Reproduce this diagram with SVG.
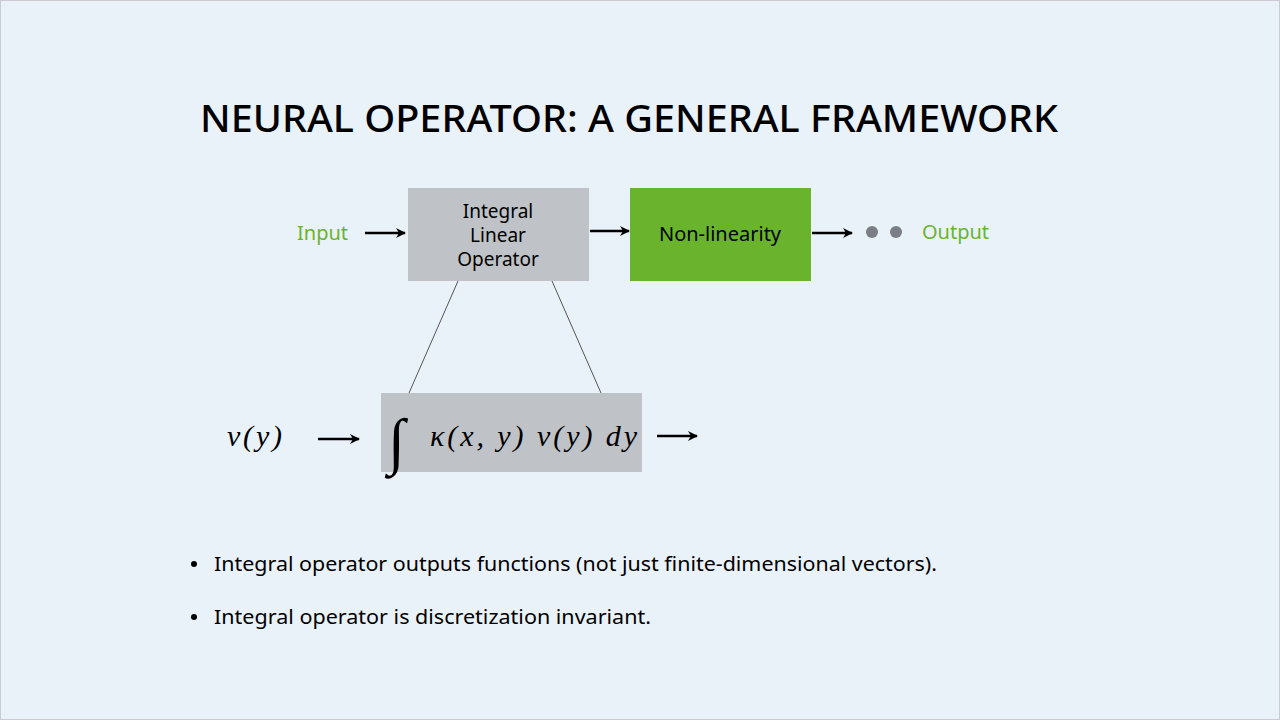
<svg xmlns="http://www.w3.org/2000/svg" width="1280" height="720" viewBox="0 0 1280 720">
<defs><marker id="ah" markerWidth="10" markerHeight="10" refX="9" refY="5" orient="auto" markerUnits="userSpaceOnUse"><path d="M0,0 L10,5 L0,10 L3,5 Z" fill="#000"/></marker></defs>
<style>
.s{font-family:"Noto Sans","DejaVu Sans",sans-serif}
.m{font-family:"Liberation Serif",serif;font-style:italic;font-size:30px}
.a{stroke:#000;stroke-width:2.5;fill:none;marker-end:url(#ah)}
</style>
<rect width="1280" height="720" fill="#eaf2f9"/>
<rect x="0.5" y="0.5" width="1279" height="719" fill="none" stroke="#c8ccd0"/>
<text class="s" x="629" y="132" font-size="38" font-weight="500" text-anchor="middle" textLength="858" lengthAdjust="spacingAndGlyphs">NEURAL OPERATOR: A GENERAL FRAMEWORK</text>
<g id="input"><text class="s" x="297" y="240" font-size="20" fill="#6ab42d">Input</text></g>
<g id="integral"><rect x="408" y="188" width="181" height="93" fill="#bfc3c7"/>
<text class="s" font-size="19" text-anchor="middle"><tspan x="498" y="218">Integral</tspan><tspan x="498" y="242">Linear</tspan><tspan x="498" y="266">Operator</tspan></text></g>
<g id="nonlin"><rect x="630" y="188" width="181" height="93" fill="#6ab42d"/>
<text class="s" x="720" y="241" font-size="20" text-anchor="middle">Non-linearity</text></g>
<g id="dots"><circle cx="872" cy="232" r="6" fill="#7b7f85"/><circle cx="896" cy="232" r="6" fill="#7b7f85"/></g>
<g id="output"><text class="s" x="922" y="239" font-size="20" fill="#6ab42d">Output</text></g>
<g id="formula"><rect x="381" y="393" width="261" height="79" fill="#bfc3c7"/>
<text x="388" y="462" font-family="Liberation Serif,serif" font-size="62">∫</text>
<text class="m" x="430" y="446" textLength="207" lengthAdjust="spacing">κ(x, y) v(y) dy</text></g>
<g id="vy"><text class="m" x="227" y="446" textLength="55" lengthAdjust="spacing">v(y)</text></g>
<g id="connectors">
<line class="a" x1="365" y1="233" x2="405" y2="233"/>
<line class="a" x1="590" y1="231" x2="629" y2="231"/>
<line class="a" x1="812" y1="233" x2="852" y2="233"/>
<line class="a" x1="318" y1="439" x2="359" y2="439"/>
<line class="a" x1="657" y1="436" x2="697" y2="436"/>
<line x1="458" y1="281" x2="409" y2="393" stroke="#555" stroke-width="1"/>
<line x1="552" y1="281" x2="601" y2="393" stroke="#555" stroke-width="1"/>
</g>
<g class="s" font-size="20">
<circle cx="194" cy="564" r="3"/><text x="214" y="571" textLength="723" lengthAdjust="spacingAndGlyphs">Integral operator outputs functions (not just finite-dimensional vectors).</text>
<circle cx="194" cy="617" r="3"/><text x="214" y="624" textLength="437" lengthAdjust="spacingAndGlyphs">Integral operator is discretization invariant.</text>
</g>
</svg>
